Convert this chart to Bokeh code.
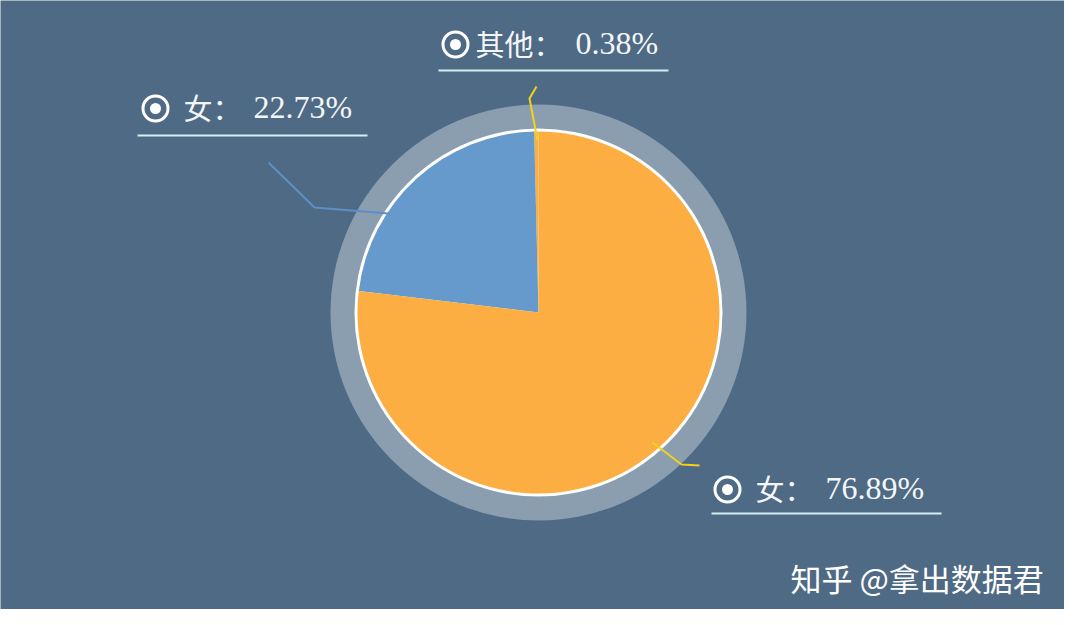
import math

from bokeh.plotting import figure
from bokeh.models import Range1d
from bokeh.core.properties import value
from bokeh.embed import file_html
from bokeh.resources import INLINE

# slices, counter-clockwise from 12 o'clock
names = ["其他", "女", "女"]
shares = [0.38, 22.73, 76.89]
colors = ["#FDAE43", "#6699CC", "#FDAE43"]
leader_colors = ["#F2D21B", "#5B8FC6", "#F2D21B"]

# label layout (page pixels, y downwards)
label_xy = [(455, 42), (155, 106), (727, 487)]
name_dx = [20, 28, 28]
rule_x = [(438, 668), (137, 367), (711, 941)]
rule_y = [70, 135, 513]
leaders = [
    [(536, 86), (529, 98), (537, 140)],
    [(268, 162), (314, 207), (388, 213)],
    [(652, 442), (681, 464), (699, 465)],
]

BG = "#4F6A84"
H = 625
CX, CY = 538, 312


def Y(y):
    return H - y


p = figure(
    width=1064,
    height=609,
    x_range=Range1d(0, 1064),
    y_range=Range1d(16, 625),
    output_backend="svg",
    toolbar_location=None,
    min_border=0,
)
p.axis.visible = False
p.grid.visible = False
p.outline_line_color = None
p.background_fill_color = BG
p.border_fill_color = BG

# outer gray ring and white rim
p.annulus(x=CX, y=Y(CY), inner_radius=182, outer_radius=208,
          fill_color="#8A9EB0", line_color=None)
p.circle(x=CX, y=Y(CY), radius=184, fill_color="white", line_color=None)

start = math.pi / 2
for share, color in zip(shares, colors):
    end = start + 2 * math.pi * share / 100
    p.wedge(x=CX, y=Y(CY), radius=181, start_angle=start, end_angle=end,
            fill_color=color, line_color=None)
    start = end

for pts, c in zip(leaders, leader_colors):
    p.line([a for a, b in pts], [Y(b) for a, b in pts], line_color=c,
           line_width=2)

for name, share, (lx, ly), dx, (x0, x1), ry in zip(
        names, shares, label_xy, name_dx, rule_x, rule_y):
    p.segment(x0=x0, y0=Y(ry), x1=x1, y1=Y(ry), line_color="#D6EEF4",
              line_width=2)
    p.scatter(x=lx, y=Y(ly + 2), size=25, fill_color=None,
              line_color="white", line_width=3)
    p.scatter(x=lx, y=Y(ly + 2), size=11, fill_color="white",
              line_color=None)
    p.text(x=lx + dx, y=Y(ly), text=[f"{name}："],
           text_font=value("Noto Sans CJK SC"),
           text_font_size="29px", text_color="#F4F7FA",
           text_baseline="middle", text_align="left")
    p.text(x=lx + dx + 30 * len(name) + 40, y=Y(ly), text=[f"{share:.2f}%"],
           text_font=value("Liberation Serif"),
           text_font_size="32px", text_color="#F4F7FA",
           text_baseline="middle", text_align="left")

p.text(x=790, y=Y(577), text=["知乎 @拿出数据君"],
       text_font=value("Noto Sans CJK SC"), text_font_size="31px",
       text_color="white", text_baseline="middle", text_align="left")

html = file_html(p, INLINE)
html = html.replace("<body>", f'<body style="background:{BG}">', 1)
open("out.html", "w").write(html)
